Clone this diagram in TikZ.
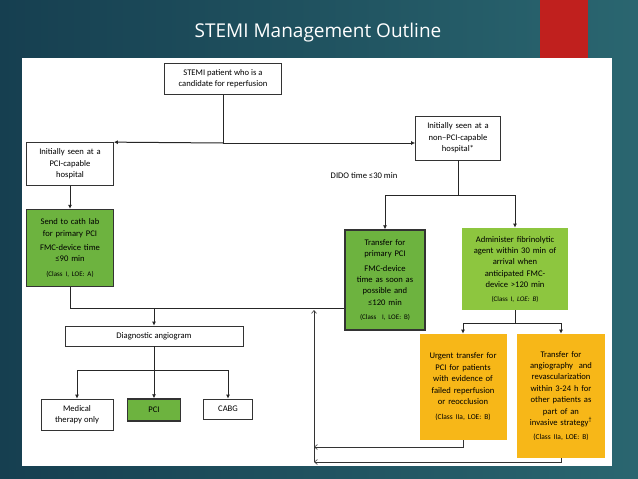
\documentclass[tikz,border=0pt]{standalone}
\usepackage{fontspec}
\setmainfont{Carlito}
\newfontfamily\titlefont{Open Sans}
\usetikzlibrary{arrows.meta}
\definecolor{bgl}{HTML}{163F50}
\definecolor{bgr}{HTML}{2A6670}
\definecolor{redbar}{HTML}{C0201E}
\definecolor{gdark}{HTML}{6DB33F}
\definecolor{glight}{HTML}{8DC63F}
\definecolor{orng}{HTML}{F7B718}
\begin{document}
\begin{tikzpicture}[x=1pt,y=-1pt,
  box/.style={draw=black!80,line width=0.7pt,fill=white,align=center,inner sep=1pt,
    font=\fontsize{8.6}{11.4}\selectfont,minimum width=#1},
  box/.default=10pt,
  gbox/.style={box=#1,fill=gdark,line width=1.4pt},
  lgbox/.style={box=#1,fill=glight,draw=none},
  obox/.style={box=#1,fill=orng,draw=none},
  ln/.style={line width=1pt,draw=black!85},
  ar/.style={ln,-{Latex[length=4pt,width=4pt]}},
  thin/.style={line width=0.6pt,draw=black!80,-{Straight Barb[length=3pt,width=5pt]}}]
\useasboundingbox (0,0) rectangle (638,479);
\shade[left color=bgl,right color=bgr] (0,0) rectangle (638,479);
\fill[redbar] (540,0) rectangle (588,58);
\node[text=white,font=\titlefont\fontsize{19}{23}\selectfont] (title) at (318,33) {STEMI Management Outline};
\fill[white] (22,58) rectangle (612,466);

\node[box=117pt,minimum height=31pt] (stemi) at (223,79) {STEMI patient who is a\\candidate for reperfusion};
\node[box=87pt,minimum height=43pt,text width=84pt] (pcicap) at (70,164) {Initially seen at a\\PCI-capable\\hospital};
\node[gbox=87pt,minimum height=77pt,text width=84pt] (cath) at (70,248) {Send to cath lab\\for primary PCI\\[3pt]FMC-device time\\≤90 min\\[3pt]{\fontsize{7}{9}\selectfont(Class I, LOE: A)}};
\node[box=85pt,minimum height=44pt,text width=82pt] (nonpci) at (458,138) {Initially seen at a\\non--PCI-capable\\hospital*};
\node[font=\fontsize{8.6}{10}\selectfont] (dido) at (364,176) {DIDO time ≤30 min};
\node[gbox=80pt,minimum height=100pt,text width=77pt] (transfer) at (385,280) {Transfer for\\primary PCI\\[3pt]FMC-device\\time as soon as\\possible and\\≤120 min\\[3pt]{\fontsize{7}{9}\selectfont(Class\ \ I, LOE: B)}};
\node[lgbox=106pt,minimum height=82pt,text width=102pt] (fibrin) at (515,269) {Administer fibrinolytic\\agent within 30 min of\\arrival when\\anticipated FMC-\\device >120 min\\[2pt]{\fontsize{7}{9}\selectfont(Class I, \textit{LOE: B})}};
\node[obox=87pt,minimum height=106pt,text width=85pt] (urgent) at (463,387) {Urgent transfer for\\PCI for patients\\with evidence of\\failed reperfusion\\or reocclusion\\[4pt]{\fontsize{7.5}{9}\selectfont(Class IIa, LOE: B)}};
\node[obox=87pt,minimum height=124pt,text width=86pt] (angio) at (561,396) {Transfer for\\angiography\ \ and\\revascularization\\within 3-24 h for\\other patients as\\part of an\\invasive strategy\textsuperscript{†}\\[3pt]{\fontsize{7.5}{9}\selectfont(Class IIa, LOE: B)}};
\node[box=178pt,minimum height=20pt] (diag) at (154,336) {Diagnostic angiogram};
\node[box=72pt,minimum height=31pt] (med) at (77,414.5) {Medical\\therapy only};
\node[gbox=53pt,minimum height=22pt] (pci) at (154,410) {PCI};
\node[box=49pt,minimum height=20pt] (cabg) at (228,409) {CABG};

\coordinate (split) at (223,143);
\draw[ln] (stemi.south) -- (split);
\draw[ar] (split) -- (pcicap.north east);
\draw[ar] (split) -- (nonpci.west |- split);
\draw[ar] (pcicap) -- (cath);
\draw[ln] (nonpci.south) -- (458,195);
\draw[ar] (458,195) -| (transfer.north);
\draw[ar] (458,195) -| (fibrin.north);
\draw[ln] (fibrin.south) -- (515,323);
\draw[ar] (515,323) -| (urgent.north);
\draw[ar] (515,323) -| (angio.north);
\draw[ln] (cath.south) |- (transfer.west |- 0,308);
\draw[ar] (154,308) -- (diag.north);
\draw[ar] (diag.south) -- (pci.north);
\draw[ln] (77,370) -- (228,370);
\draw[ar] (77,370) -- (med.north);
\draw[ar] (228,370) -- (cabg.north);
\coordinate (ret) at (314,462);
\draw[thin] (urgent.south) |- (314,447);
\draw[thin] (angio.south) |- (ret);
\draw[thin] (ret) -- (314,310);
\end{tikzpicture}
\end{document}
